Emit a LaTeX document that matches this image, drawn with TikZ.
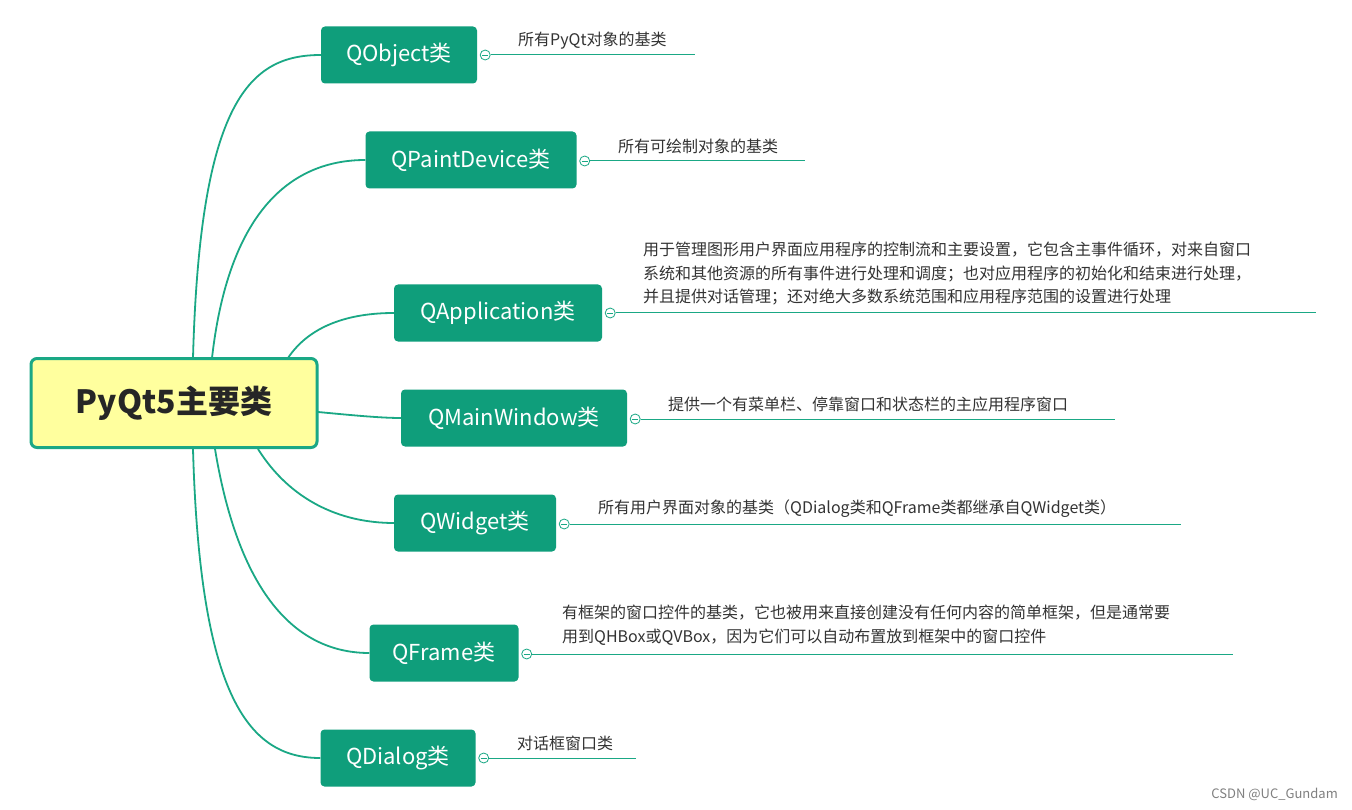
\documentclass[tikz,border=0pt]{standalone}
\usepackage{fontspec}
\setmainfont{Noto Sans CJK SC}
\begin{document}
\begin{tikzpicture}[x=1pt,y=-1pt,
  cls/.style={fill=clsg,rounded corners=4pt,text=white,font=\fontsize{22}{24}\selectfont,inner sep=0pt,minimum height=57pt},
  br/.style={draw=lineg,line width=1.8pt},
  leaf/.style={draw=lineg,line width=1pt},
  knob/.style={circle,draw=lineg,fill=white,line width=0.8pt,minimum size=10pt,inner sep=0pt},
  desc/.style={anchor=west,text=txt,font=\fontsize{16}{23.5}\selectfont,align=left,inner sep=0pt}]
\definecolor{clsg}{HTML}{0F9E7B}
\definecolor{lineg}{HTML}{1AA885}
\definecolor{txt}{HTML}{333333}
\definecolor{rootf}{HTML}{FFFF9E}
\useasboundingbox[fill=white] (0,0) rectangle (1352,810);
\node[draw=lineg,line width=3pt,fill=rootf,rounded corners=6pt,minimum width=286pt,minimum height=89pt,font=\fontsize{32}{34}\selectfont\bfseries,text=black!85] (root) at (174,403) {PyQt5主要类};
\node[cls,minimum width=156pt] (a) at (399,55) {QObject类};
\node[cls,minimum width=211pt] (b) at (471,160) {QPaintDevice类};
\node[cls,minimum width=208pt] (c) at (498,313) {QApplication类};
\node[cls,minimum width=226pt] (d) at (514,418) {QMainWindow类};
\node[cls,minimum width=162pt] (e) at (475,523) {QWidget类};
\node[cls,minimum width=149pt] (f) at (444,653) {QFrame类};
\node[cls,minimum width=155pt] (g) at (398,758) {QDialog类};
\draw[br] (193,358) .. controls (200,100) and (250,55) .. (a.west);
\draw[br] (212,358) .. controls (230,200) and (300,160) .. (b.west);
\draw[br] (288,358) .. controls (310,325) and (350,313) .. (c.west);
\draw[br] (318,412) .. controls (350,415) and (380,418) .. (d.west);
\draw[br] (258,449) .. controls (290,500) and (340,523) .. (e.west);
\draw[br] (215,449) .. controls (240,600) and (300,653) .. (f.west);
\draw[br] (193,449) .. controls (200,700) and (250,758) .. (g.west);
\foreach \n/\y/\e in {a/55/695,b/161/805,c/313/1316,d/419/1115,e/524/1181,f/654/1233,g/758/636}{
  \node[knob] (k\n) at ([xshift=8pt]\n.east |- 0,\y) {};
  \coordinate (end\n) at (\e,\y);
  \draw[leaf] (k\n.east) -- (end\n);
  \draw[lineg,line width=0.8pt] ([xshift=-3pt]k\n.center) -- ([xshift=3pt]k\n.center);
}
\node[desc] (ta) at (518,41) {所有PyQt对象的基类};
\node[desc] (tb) at (618,146) {所有可绘制对象的基类};
\node[desc] (tc) at (643,274) {用于管理图形用户界面应用程序的控制流和主要设置，它包含主事件循环，对来自窗口\\系统和其他资源的所有事件进行处理和调度；也对应用程序的初始化和结束进行处理，\\并且提供对话管理；还对绝大多数系统范围和应用程序范围的设置进行处理};
\node[desc] (td) at (668,404) {提供一个有菜单栏、停靠窗口和状态栏的主应用程序窗口};
\node[desc] (te) at (598,509) {所有用户界面对象的基类（QDialog类和QFrame类都继承自QWidget类）};
\node[desc] (tf) at (562,625) {有框架的窗口控件的基类，它也被用来直接创建没有任何内容的简单框架，但是通常要\\用到QHBox或QVBox，因为它们可以自动布置放到框架中的窗口控件};
\node[desc] (tg) at (517,743) {对话框窗口类};
\node[anchor=east,text=gray,font=\fontsize{13}{15}\selectfont,inner sep=0pt] (wm) at (1338,794) {CSDN @UC\_Gundam};
\end{tikzpicture}
\end{document}
